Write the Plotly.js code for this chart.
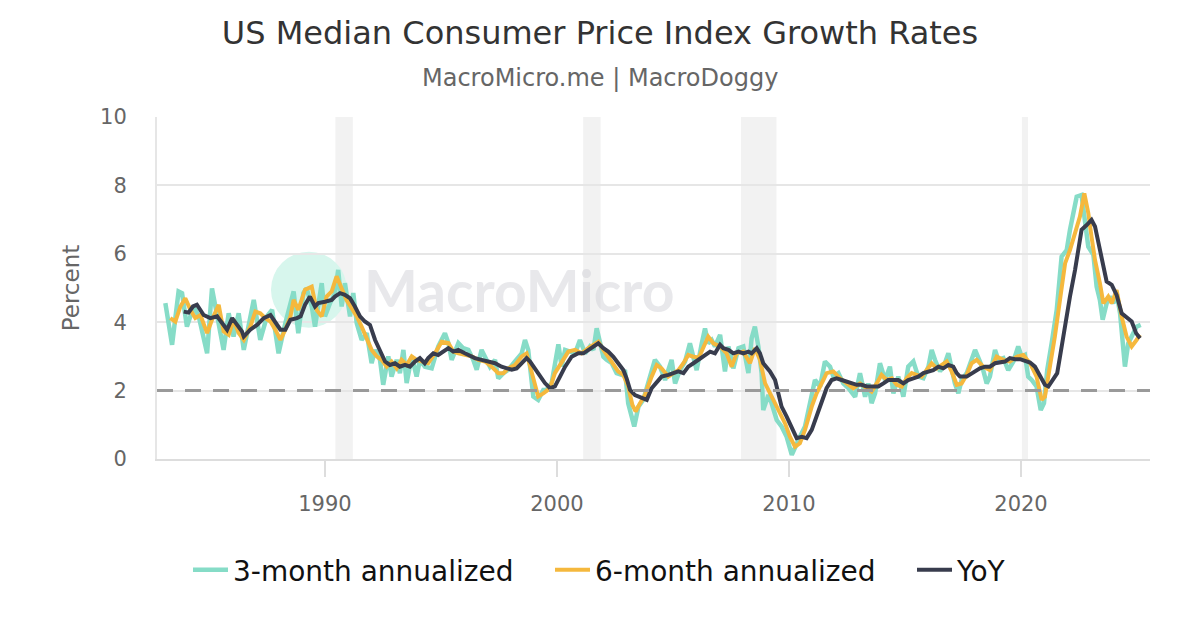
<!DOCTYPE html>
<html>
<head>
<meta charset="utf-8">
<script src="https://cdn.plot.ly/plotly-3.0.1.min.js"></script>
<style>html,body{margin:0;padding:0;background:#fff;}#chart{width:1200px;height:630px;}</style>
</head>
<body>
<div id="chart"></div>
<script>
// ---- Data (decimal years, percent) ----
var dates3m = [1983.12,1983.41,1983.69,1983.84,1984.05,1984.34,1984.56,1984.92,1985.13,1985.35,1985.63,1985.85,1986.06,1986.28,1986.50,1986.93,1987.21,1987.50,1987.72,1988.00,1988.29,1988.65,
1988.85,1989.07,1989.21,1989.43,1989.57,1989.86,1990.00,1990.22,1990.43,1990.57,1990.72,1990.86,1991.08,1991.22,1991.37,1991.58,1991.80,1992.01,1992.16,1992.37,1992.51,1992.73,1992.87,1993.09,1993.23,1993.38,1993.52,1993.74,1993.95,
1994.09,1994.31,1994.60,1994.88,1995.17,1995.32,1995.46,1995.75,1995.96,1996.18,1996.39,1996.54,1996.75,1996.90,1997.11,1997.33,1997.47,1997.69,1997.90,1998.19,1998.48,1998.62,1998.76,1998.98,1999.19,1999.41,1999.55,1999.77,1999.91,
2000.06,2000.20,2000.35,2000.56,2000.78,2000.99,2001.21,2001.42,2001.57,2001.71,2001.85,2002.00,2002.14,2002.36,2002.57,2002.79,2002.93,2003.07,2003.22,2003.33,2003.51,2003.72,2004.01,2004.22,2004.44,2004.66,2004.94,2005.09,2005.30,2005.52,2005.73,2005.88,
2006.02,2006.24,2006.38,2006.52,2006.67,2006.81,2007.03,2007.24,2007.39,2007.60,2007.82,2008.03,2008.25,2008.39,2008.53,2008.68,2008.82,2008.89,2009.11,2009.25,2009.47,2009.68,2009.90,2010.12,2010.26,2010.47,2010.69,2010.91,2011.12,2011.34,
2011.55,2011.77,2011.91,2012.13,2012.34,2012.56,2012.85,2013.06,2013.28,2013.42,2013.56,2013.71,2013.92,2014.14,2014.35,2014.50,2014.71,2014.93,2015.14,2015.36,2015.57,2015.79,2016.01,2016.15,2016.29,2016.51,2016.72,2016.87,2017.01,2017.15,2017.30,2017.44,2017.66,2017.87,2018.02,
2018.23,2018.37,2018.52,2018.66,2018.88,2019.02,2019.24,2019.45,2019.67,2019.88,2020.03,2020.17,2020.31,2020.46,2020.67,2020.85,2020.99,2021.13,2021.32,2021.54,2021.75,2021.97,2022.11,2022.25,2022.40,2022.61,2022.76,2022.90,2023.12,2023.26,2023.40,2023.52,2023.69,2023.83,2023.98,2024.12,2024.27,2024.41,2024.48,2024.62,2024.84,2024.98,2025.16];
var values3m = [4.56,3.34,4.90,4.85,3.87,4.46,4.17,3.09,4.99,4.17,3.19,4.26,3.58,4.26,3.19,4.65,3.48,4.17,4.36,3.09,3.97,4.90,
3.68,4.85,4.99,4.46,3.87,5.14,4.17,4.56,4.85,5.53,4.46,5.14,4.17,4.85,3.97,3.48,3.68,2.80,3.19,2.90,2.17,3.00,2.41,2.90,2.51,3.19,2.22,3.00,2.41,
2.90,2.70,2.65,3.29,3.68,3.39,2.90,3.39,3.24,3.19,2.90,2.61,3.19,3.00,2.70,2.90,2.36,2.51,2.61,2.85,3.09,3.48,3.19,1.83,1.73,2.02,2.02,2.22,2.70,
3.35,2.70,3.19,3.14,3.09,3.48,3.09,3.29,3.19,3.82,3.43,2.99,2.90,2.80,2.51,2.46,2.60,1.63,1.24,0.95,1.53,1.73,2.41,2.90,2.70,2.31,2.90,2.21,2.60,2.85,3.38,2.90,
2.60,3.38,3.82,3.38,3.48,3.29,3.63,2.56,3.29,2.65,3.24,3.29,2.51,3.53,3.87,3.29,2.51,1.43,1.87,1.63,1.14,0.95,0.65,0.12,0.36,0.65,0.95,1.73,2.31,2.12,
2.85,2.70,2.41,2.51,2.21,2.07,1.82,2.51,1.82,2.21,1.63,1.92,2.80,2.31,2.70,1.92,2.41,1.82,2.70,2.85,2.41,2.36,2.70,3.19,2.90,2.56,2.80,3.09,2.65,2.21,1.92,2.31,2.51,2.95,3.19,
2.85,2.60,2.21,2.41,3.19,2.90,2.95,2.60,2.85,3.29,2.99,3.04,2.41,2.31,2.12,1.43,1.63,2.60,3.38,4.36,5.92,6.11,6.70,7.19,7.67,7.72,6.99,6.21,5.97,5.04,4.65,4.07,4.55,4.75,4.55,4.85,4.26,3.19,2.70,3.38,3.68,3.87,3.92];

var dates6m = [1983.33,1983.55,1983.77,1983.98,1984.20,1984.41,1984.63,1984.92,1985.13,1985.42,1985.63,1985.85,1986.06,1986.28,1986.50,1986.78,1987.00,1987.21,1987.43,1987.65,1987.86,1988.08,1988.29,1988.51,1988.65,
1988.85,1989.14,1989.43,1989.64,1989.86,1990.07,1990.29,1990.50,1990.72,1990.93,1991.15,1991.37,1991.58,1991.80,1992.01,1992.23,1992.44,1992.66,1992.87,1993.09,1993.30,1993.52,1993.74,1993.95,
1994.17,1994.45,1994.74,1995.03,1995.32,1995.53,1995.75,1996.03,1996.32,1996.61,1996.90,1997.18,1997.47,1997.69,1997.90,1998.19,1998.48,1998.69,1998.91,1999.19,1999.41,1999.70,1999.91,
2000.20,2000.49,2000.78,2001.06,2001.35,2001.57,2001.78,2002.00,2002.21,2002.43,2002.64,2002.86,2003.07,2003.25,2003.39,2003.58,2003.79,2004.08,2004.30,2004.51,2004.80,2005.02,2005.23,2005.45,2005.66,2005.88,
2006.12,2006.52,2006.74,2007.03,2007.31,2007.53,2007.74,2008.03,2008.32,2008.53,2008.75,2008.97,2009.25,2009.54,2009.83,2010.04,2010.26,2010.47,2010.69,2010.98,2011.19,2011.48,
2011.62,2011.91,2012.20,2012.49,2012.77,2013.06,2013.35,2013.56,2013.78,2013.99,2014.21,2014.43,2014.64,2014.86,2015.07,2015.29,2015.50,2015.72,2015.93,2016.15,2016.37,2016.58,2016.80,2017.01,2017.23,2017.44,2017.66,2017.87,2018.09,
2018.37,2018.66,2018.95,2019.24,2019.52,2019.81,2020.10,2020.39,2020.67,2020.89,2021.03,2021.25,2021.46,2021.68,2021.90,2022.11,2022.33,2022.54,2022.73,2022.90,2023.04,2023.19,2023.40,2023.55,2023.76,2023.91,2024.12,2024.34,2024.55,2024.77,2024.98,2025.13];
var values6m = [4.12,4.02,4.46,4.70,4.36,4.12,4.21,3.68,4.07,4.51,3.73,3.63,4.07,3.68,3.48,3.87,4.31,4.26,4.12,4.02,3.78,3.48,3.78,4.17,4.65,
4.36,4.95,5.04,4.36,4.17,4.75,4.90,5.34,4.95,4.65,4.41,4.17,3.87,3.48,3.19,3.00,2.90,2.70,2.85,2.65,2.90,2.75,3.00,2.90,
2.85,2.80,3.09,3.43,3.39,3.14,3.09,3.04,3.00,2.90,2.85,2.70,2.51,2.51,2.65,2.75,3.00,3.09,2.51,1.83,1.92,2.07,2.51,
2.80,3.14,3.19,3.09,3.24,3.34,3.43,3.19,2.99,2.75,2.56,2.46,2.12,1.58,1.39,1.63,1.87,2.41,2.75,2.65,2.41,2.51,2.60,2.80,3.04,2.99,
2.97,3.58,3.38,3.29,3.09,2.70,3.09,3.14,2.80,3.24,2.90,2.21,1.82,1.43,1.04,0.65,0.36,0.46,0.85,1.53,1.92,2.31,
2.51,2.56,2.36,2.21,2.07,2.21,2.07,1.97,2.21,2.46,2.31,2.36,2.17,2.12,2.36,2.51,2.46,2.41,2.60,2.80,2.65,2.75,2.85,2.56,2.17,2.21,2.46,2.80,2.90,
2.70,2.60,2.99,2.90,2.85,2.99,3.04,2.80,2.41,1.73,1.82,2.70,3.58,4.65,5.72,6.11,6.60,7.09,7.77,7.19,6.50,5.82,5.14,4.55,4.75,4.55,4.94,4.16,3.58,3.29,3.48,3.63];

var datesYoY = [1983.91,1984.12,1984.31,1984.48,1984.77,1985.06,1985.35,1985.78,1986.00,1986.42,1986.50,1986.78,1987.07,1987.36,1987.65,1987.86,1988.08,1988.29,1988.51,1988.79,
1988.95,1989.14,1989.35,1989.57,1989.71,1990.00,1990.29,1990.43,1990.65,1990.86,1991.08,1991.29,1991.51,1991.72,1991.94,1992.16,1992.37,1992.59,1992.80,1993.02,1993.23,1993.45,1993.66,1993.88,1994.09,
1994.30,1994.45,1994.67,1994.88,1995.10,1995.32,1995.53,1995.75,1996.03,1996.25,1996.46,1996.75,1997.04,1997.33,1997.61,1997.83,1998.05,1998.26,1998.48,1998.69,1998.84,1999.05,1999.27,1999.48,1999.70,
1999.91,2000.13,2000.35,2000.63,2000.92,2001.14,2001.35,2001.57,2001.78,2002.00,2002.21,2002.43,2002.64,2002.86,2003.00,2003.15,2003.36,2003.58,2003.87,2004.08,2004.30,2004.51,2004.80,2005.02,2005.23,2005.45,2005.66,2005.88,2006.09,
2006.38,2006.60,2006.81,2007.03,2007.17,2007.39,2007.60,2007.82,2008.03,2008.25,2008.39,2008.61,2008.75,2008.89,2009.18,2009.40,2009.54,2009.68,2009.90,2010.12,2010.33,2010.55,2010.76,2010.98,2011.19,2011.41,
2011.62,2011.84,2012.05,2012.27,2012.49,2012.70,2012.92,2013.13,2013.35,2013.64,2013.85,2014.07,2014.28,2014.50,2014.71,2014.93,2015.14,2015.36,2015.57,2015.79,2016.01,2016.22,2016.44,2016.65,2016.87,2017.08,2017.23,2017.37,2017.66,2017.87,2018.02,
2018.23,2018.45,2018.66,2018.88,2019.09,2019.31,2019.52,2019.74,2019.96,2020.17,2020.39,2020.60,2020.82,2021.03,2021.18,2021.39,2021.56,2021.68,2021.82,2021.97,2022.11,2022.33,2022.47,2022.61,2022.83,2023.04,2023.19,2023.33,2023.48,2023.69,2023.91,2024.12,2024.34,2024.55,2024.77,2024.96,2025.13];
var valuesYoY = [4.31,4.28,4.46,4.51,4.21,4.12,4.17,3.78,4.12,3.73,3.58,3.78,3.92,4.12,4.21,4.02,3.78,3.78,4.07,4.12,
4.17,4.51,4.75,4.46,4.56,4.60,4.65,4.75,4.85,4.80,4.70,4.46,4.17,4.02,3.92,3.48,3.14,2.85,2.75,2.80,2.70,2.75,2.70,2.85,2.95,
2.80,2.95,3.09,3.04,3.14,3.24,3.14,3.19,3.09,3.02,2.95,2.90,2.85,2.80,2.70,2.65,2.61,2.65,2.80,2.95,2.85,2.65,2.46,2.22,2.07,
2.12,2.41,2.70,2.99,3.09,3.09,3.19,3.29,3.38,3.24,3.14,2.99,2.80,2.60,2.36,2.02,1.87,1.82,1.73,2.07,2.26,2.41,2.46,2.51,2.56,2.51,2.70,2.80,2.90,
3.04,3.14,3.09,3.34,3.24,3.19,3.09,3.14,3.09,3.14,3.09,3.24,3.09,2.80,2.56,2.31,1.92,1.53,1.24,0.90,0.61,0.65,0.61,0.85,1.24,1.68,
2.07,2.31,2.36,2.31,2.26,2.21,2.17,2.17,2.12,2.12,2.12,2.21,2.31,2.31,2.31,2.21,2.31,2.36,2.41,2.51,2.56,2.60,2.70,2.65,2.75,2.70,2.51,2.41,2.41,2.51,2.56,
2.65,2.70,2.70,2.80,2.82,2.85,2.95,2.92,2.92,2.88,2.82,2.70,2.41,2.17,2.12,2.31,2.51,2.99,3.58,4.16,4.75,5.53,6.21,6.70,6.84,6.99,6.80,6.31,5.82,5.19,5.09,4.80,4.26,4.16,4.02,3.68,3.53];

// recession periods
var recStart = [1990.45, 2001.13, 2007.93, 2020.04];
var recEnd   = [1991.20, 2001.88, 2009.46, 2020.30];
var targetRate = 2;

var seriesNames = ['3-month annualized', '6-month annualized', 'YoY'];
var tickYears = [1990, 2000, 2010, 2020];

var FONT = 'DejaVu Sans, Verdana, sans-serif';

var traces = [
  {x: dates3m, y: values3m, name: seriesNames[0], type: 'scatter', mode: 'lines', legendwidth: 312,
   line: {color: '#86dcc7', width: 4.5}},
  {x: dates6m, y: values6m, name: seriesNames[1], type: 'scatter', mode: 'lines', legendwidth: 312,
   line: {color: '#f5b83d', width: 4}},
  {x: datesYoY, y: valuesYoY, name: seriesNames[2], type: 'scatter', mode: 'lines',
   line: {color: '#383c4d', width: 4}}
];

var shapes = [];
for (var i = 0; i < recStart.length; i++) {
  shapes.push({type: 'rect', xref: 'x', yref: 'paper', x0: recStart[i], x1: recEnd[i], y0: 0, y1: 1,
    fillcolor: '#f2f2f2', line: {width: 0}, layer: 'below'});
}
// watermark circle
shapes.push({type: 'circle', xref: 'x', yref: 'y', xsizemode: 'pixel', ysizemode: 'pixel',
  xanchor: 1989.31, yanchor: 4.95, x0: -38, x1: 38, y0: -38, y1: 38,
  fillcolor: '#d7f6ed', line: {width: 0}, layer: 'below'});
// 2% reference
shapes.push({type: 'line', xref: 'paper', yref: 'y', x0: 0, x1: 1, y0: targetRate, y1: targetRate,
  line: {color: '#9a9a9a', width: 3, dash: '16px,12px'}, layer: 'above'});

var layout = {
  width: 1200, height: 630,
  margin: {l: 157, r: 50, t: 117, b: 171},
  paper_bgcolor: '#ffffff', plot_bgcolor: '#ffffff',
  font: {family: FONT, color: '#666666'},
  title: {text: 'US Median Consumer Price Index Growth Rates', font: {family: FONT, size: 32, color: '#333333'},
    x: 0.5, xanchor: 'center', y: 1 - 33/630, yanchor: 'middle', yref: 'container'},
  showlegend: true,
  legend: {orientation: 'h', xref: 'container', yref: 'container', x: 188 / 1200, xanchor: 'left',
    y: 1 - 570 / 630, yanchor: 'middle', itemwidth: 35,
    font: {family: FONT, size: 28, color: '#111111'}, bgcolor: 'rgba(0,0,0,0)'},
  xaxis: {type: 'linear', range: [1982.76, 2025.56], tickvals: tickYears, ticktext: tickYears.map(String),
    showgrid: false, zeroline: false, showline: true, linecolor: '#dddddd', linewidth: 2,
    ticks: 'outside', ticklen: 16, tickwidth: 2, tickcolor: '#dddddd', ticklabelstandoff: 9,
    tickfont: {family: FONT, size: 21, color: '#666666'}},
  yaxis: {range: [0, 10], tick0: 0, dtick: 2, showgrid: true, gridcolor: '#e6e6e6', gridwidth: 2,
    zeroline: false, showline: true, linecolor: '#e6e6e6', linewidth: 2, ticks: '',
    ticklabelstandoff: 24,
    tickfont: {family: FONT, size: 21, color: '#666666'},
    title: {text: 'Percent', font: {family: FONT, size: 23, color: '#666666'}, standoff: 14}},
  shapes: shapes,
  annotations: [
    {text: 'MacroMicro.me | MacroDoggy', xref: 'paper', yref: 'paper', x: (600 - 157) / 993, y: (459 - 78) / 342,
     xanchor: 'center', yanchor: 'middle', showarrow: false, font: {family: FONT, size: 24, color: '#666666'}},
    {text: '<b>MacroMicro</b>', xref: 'x', yref: 'y', x: 1991.6, y: 4.95, xanchor: 'left', yanchor: 'middle',
     showarrow: false, font: {family: 'Lato, sans-serif', size: 57, color: 'rgba(205,205,210,0.45)'}}
  ]
};

Plotly.newPlot('chart', traces, layout, {displayModeBar: false, staticPlot: true});
</script>
</body>
</html>
